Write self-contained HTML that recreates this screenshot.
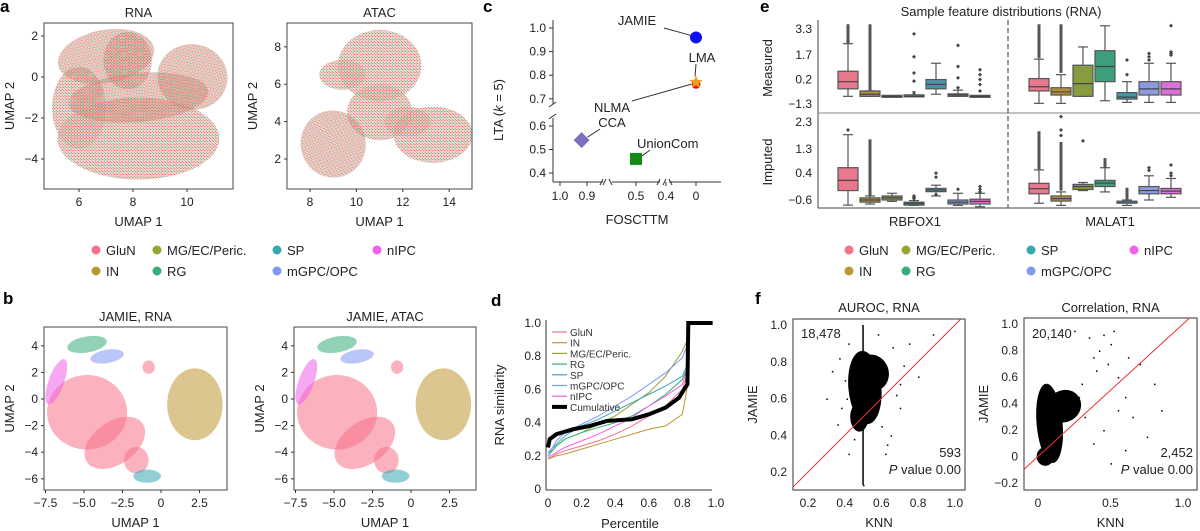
<!DOCTYPE html>
<html><head><meta charset="utf-8">
<style>
html,body{margin:0;padding:0;background:#fff;}
svg{display:block;font-family:"Liberation Sans",sans-serif;}
</style></head>
<body>
<svg id="fig" width="1200" height="531" viewBox="0 0 1200 531" xmlns="http://www.w3.org/2000/svg">
<defs>
  <pattern id="mixdots" width="3" height="3" patternUnits="userSpaceOnUse">
    <rect x="0" y="0" width="1.2" height="1.2" fill="#f77189"/>
    <rect x="1.5" y="0.3" width="1.1" height="1.1" fill="#c9a050"/>
    <rect x="0.6" y="1.6" width="1.1" height="1.1" fill="#f58a9c"/>
    <rect x="2" y="1.8" width="1" height="1" fill="#5ab08a"/>
  </pattern>
</defs>
</svg>
<script>
// ---------------- DATA ----------------
const cellTypes = ["GluN","IN","MG/EC/Peric.","RG","SP","mGPC/OPC","nIPC"];
const typeColors = ["#f77189","#bb9832","#97a431","#36ad7a","#39a7b3","#8197f0","#f060e8"];
const boxColors = ["#e8798d","#b38f3a","#879c3e","#3f9f7c","#3f9aa8","#8c9be0","#dc70d8"];

// panel a cluster blobs (data coords): [cx, cy, rx, ry, rot]
const umapRnaBlobs = [[7.0,1.0,1.8,1.3,-10],[10.2,0.0,1.3,1.6,10],[8.2,-3.0,3.0,2.0,0],[8.2,-1.0,2.6,1.2,-5],[6.0,-1.5,1.0,2.0,0],[7.8,0.8,0.9,1.4,0]];
const umapAtacBlobs = [[11.0,7.0,1.8,1.9,0],[9.4,6.5,1.0,0.8,0],[9.0,2.8,1.4,1.8,-15],[13.3,3.3,1.7,1.5,0],[11.0,4.5,1.4,1.5,0],[12.2,4.0,1.0,0.8,0]];
// panel b cluster blobs: [typeIndex, cx, cy, rx, ry, rot]
const jamieRnaBlobs = [[0,-4.8,-1.0,2.6,2.8,0],[0,-3.0,-3.3,2.2,1.6,-35],[0,-1.6,-4.6,0.8,1.0,0],[1,2.2,-0.4,1.8,2.7,0],[3,-4.8,4.1,1.3,0.6,-10],[5,-3.5,3.2,1.1,0.5,-10],[6,-6.8,1.3,0.5,1.8,20],[4,-0.9,-5.8,0.9,0.5,0],[0,-0.8,2.4,0.4,0.5,0]];
const jamieAtacBlobs = [[0,-4.8,-1.0,2.6,2.8,0],[0,-3.0,-3.3,2.2,1.6,-35],[0,-1.6,-4.6,0.8,1.0,0],[1,2.1,-0.4,1.8,2.7,0],[3,-4.8,4.1,1.3,0.6,-10],[5,-3.5,3.2,1.1,0.5,-10],[6,-6.8,1.3,0.5,1.8,20],[4,-1.0,-5.8,0.9,0.5,0],[0,-0.9,2.4,0.4,0.5,0]];

// panel c
const methods = ["JAMIE","LMA","CCA","UnionCom"];
const foscttm = [0.0, 0.0, 0.92, 0.5];
const lta = [0.96, 0.77, 0.54, 0.46];

// panel d
const pctX = [0,0.05,0.1,0.2,0.3,0.4,0.5,0.6,0.7,0.8,0.83];
const simGluN = [0.18,0.21,0.23,0.26,0.29,0.33,0.38,0.44,0.50,0.60,0.70];
const simIN   = [0.18,0.20,0.21,0.24,0.27,0.30,0.33,0.36,0.38,0.45,0.62];
const simMG   = [0.20,0.26,0.30,0.34,0.39,0.44,0.51,0.58,0.68,0.83,0.90];
const simRG   = [0.20,0.26,0.30,0.34,0.37,0.40,0.44,0.50,0.57,0.66,0.73];
const simSP   = [0.22,0.27,0.32,0.38,0.42,0.47,0.52,0.57,0.62,0.68,0.75];
const simMGPC = [0.20,0.29,0.34,0.39,0.44,0.50,0.56,0.63,0.70,0.79,0.87];
const simNIPC = [0.19,0.22,0.25,0.29,0.33,0.38,0.43,0.50,0.56,0.63,0.73];
const cumX = [0,0.01,0.05,0.15,0.25,0.35,0.5,0.6,0.7,0.78,0.81,0.83,0.835,0.98];
const cumY = [0.25,0.30,0.33,0.36,0.38,0.41,0.42,0.45,0.49,0.55,0.60,0.63,1.0,1.0];

// panel e boxes: [low,q1,med,q3,high]
const measRBFOX1 = [[-0.83,-0.37,0.07,0.71,2.4],[-0.83,-0.83,-0.7,-0.5,-0.5],[-0.83,-0.83,-0.83,-0.83,-0.83],[-0.83,-0.83,-0.83,-0.8,-0.75],[-0.7,-0.37,-0.1,0.2,1.2],[-0.83,-0.83,-0.75,-0.68,-0.45],[-0.83,-0.83,-0.83,-0.83,-0.83]];
const measMALAT1 = [[-1.26,-0.5,-0.24,0.26,1.45],[-1.26,-0.75,-0.56,-0.3,0.5],[-0.83,-0.83,-0.05,1.08,2.2],[-1.1,0.07,1.0,1.97,3.5],[-1.2,-1.0,-0.88,-0.6,0.07],[-1.2,-0.75,-0.37,0.07,1.2],[-1.2,-0.75,-0.37,0.07,1.2]];
const impRBFOX1 = [[-0.79,-0.25,0.13,0.6,1.83],[-0.75,-0.68,-0.6,-0.52,-0.45],[-0.65,-0.6,-0.52,-0.45,-0.35],[-0.8,-0.79,-0.73,-0.68,-0.62],[-0.45,-0.29,-0.23,-0.17,-0.05],[-0.8,-0.75,-0.68,-0.6,-0.35],[-0.85,-0.75,-0.65,-0.57,-0.35]];
const impMALAT1 = [[-0.72,-0.37,-0.18,0.02,0.52],[-0.8,-0.64,-0.55,-0.45,-0.3],[-0.25,-0.21,-0.1,-0.02,0.05],[-0.3,-0.1,0.03,0.13,0.6],[-0.8,-0.75,-0.71,-0.68,-0.6],[-0.6,-0.37,-0.25,-0.1,0.3],[-0.5,-0.37,-0.27,-0.17,0.2]];
// outliers: dense ranges [from,to] and single points
const measRBFOX1Dense = [[2.5,3.5],[-0.4,3.5],null,[-0.72,-0.6],null,null,null];
const measRBFOX1Pts = [[],[],[],[0.1,0.6,1.6,3.0],[],[-0.3,0.3,1.0,2.3],[-0.5,-0.1,0.2,0.5,0.8]];
const measMALAT1Dense = [[1.6,3.5],[0.7,3.5],null,null,null,null,null];
const measMALAT1Pts = [[],[],[],[],[0.5,1.4],[1.4,1.6,1.8],[1.7,1.8,1.9,3.5]];
const impRBFOX1Dense = [null,[-0.4,1.6],null,null,null,null,null];
const impRBFOX1Pts = [[2.0],[],[],[-0.55,-0.5,-0.45],[0.25,0.4,-0.4],[-0.2],[-0.3,-0.2,-0.1]];
const impMALAT1Dense = [[0.6,1.9],[-0.2,1.5],null,[0.65,0.9],[-0.55,-0.2],null,null];
const impMALAT1Pts = [[],[1.8,2.0,2.5],[1.6],[],[],[0.5,0.6],[0.3,0.4,0.7]];

// panel f: core clouds [cx, cy, rx, ry, rot] and sparse points [knn, jamie]
const aurocCore = [[0.51,0.66,0.09,0.2,-5],[0.55,0.74,0.09,0.1,-20],[0.48,0.5,0.05,0.08,0]];
const aurocSparse = [[0.3,0.6],[0.37,0.82],[0.42,0.3],[0.62,0.3],[0.75,0.9],[0.8,0.72],[0.7,0.55],[0.36,0.46],[0.88,0.95],[0.5,0.13],[0.65,0.4],[0.58,0.95],[0.4,0.7],[0.38,0.55],[0.68,0.62],[0.72,0.78],[0.45,0.38],[0.6,0.45],[0.33,0.75],[0.66,0.88],[0.42,0.9],[0.7,0.68],[0.63,0.35],[0.41,0.6]];
const corrCore = [[0.08,0.25,0.09,0.3,-5],[0.18,0.38,0.12,0.12,-30],[0.05,0.0,0.06,0.07,0]];
const corrSparse = [[0.35,0.9],[0.45,0.92],[0.5,0.85],[0.38,0.75],[0.55,0.6],[0.6,0.45],[0.65,0.3],[0.8,0.55],[0.75,0.15],[0.6,0.05],[0.5,-0.05],[0.25,0.95],[0.4,0.65],[0.3,0.55],[0.85,0.35],[0.7,0.7],[0.42,0.8],[0.48,0.7],[0.32,0.3],[0.45,0.2],[0.55,0.35],[0.28,0.45],[0.38,0.1],[0.52,0.95],[0.62,0.75]];

// ---------------- HELPERS ----------------
const svg = document.getElementById('fig');
const NS = "http://www.w3.org/2000/svg";
function mk(tag, attrs, name, parent){
  const el = document.createElementNS(NS, tag);
  for (const k in attrs) el.setAttribute(k, attrs[k]);
  
  
  (parent||svg).appendChild(el);
  return el;
}
function txt(x,y,s,name,o){
  o=o||{};
  const el = mk('text',{x:x,y:y,'font-size':o.size||12,'text-anchor':o.anchor||'middle',fill:o.fill||'#222','font-weight':o.weight||'normal'},name);
  if(o.rot) el.setAttribute('transform','rotate(-90 '+x+' '+y+')');
  el.textContent = s;
  return el;
}
function line(x1,y1,x2,y2,name,o){
  o=o||{};
  return mk('line',{x1:x1,y1:y1,x2:x2,y2:y2,stroke:o.stroke||'#333','stroke-width':o.w||1,'stroke-dasharray':o.dash||'none'},name);
}
function rect(x,y,w,h,name,o){
  o=o||{};
  return mk('rect',{x:x,y:y,width:w,height:h,fill:o.fill||'none',stroke:o.stroke||'none','stroke-width':o.w||1},name);
}
function fmt(v){ return String(v).replace('-','−'); }

// ---------------- PANEL LABELS ----------------
[["a",0,12],["b",3,304],["c",483,12],["d",491,306],["e",760,12],["f",755,304]].forEach(p=>{
  txt(p[1],p[2],p[0],'panel-label-'+p[0],{size:17,weight:'bold',anchor:'start',fill:'#000'});
});

// ---------------- PANELS A/B ----------------
function umapPanel(box, xt, yt, xf, yf, title, blobs, key, mixed, decimalX){
  const cp = mk('clipPath',{id:key+'-clip'},key+'-clip');
  mk('rect',{x:box[0],y:box[1],width:box[2]-box[0],height:box[3]-box[1]},key+'-clip-rect',cp);
  const g = mk('g',{'clip-path':'url(#'+key+'-clip)'},key+'-points');
  blobs.forEach((b)=>{
    let ti, cx, cy, rx, ry, rot;
    if(mixed){ [cx,cy,rx,ry,rot]=b; ti=-1; } else { [ti,cx,cy,rx,ry,rot]=b; }
    const px = xf(cx), py = yf(cy);
    const prx = Math.abs(xf(cx+rx)-px), pry = Math.abs(yf(cy+ry)-py);
    mk('ellipse',{cx:px,cy:py,rx:prx,ry:pry,transform:'rotate('+rot+' '+px+' '+py+')',
      fill: mixed?'url(#mixdots)':typeColors[ti], 'fill-opacity': mixed?1:0.55},key+'-cluster',g);
  });
  rect(box[0],box[1],box[2]-box[0],box[3]-box[1],key+'-frame',{stroke:'#444',w:1});
  xt.forEach(v=>{ const x=xf(v); line(x,box[3],x,box[3]+3,key+'-x-tick'); txt(x,box[3]+17,(decimalX&&v!==0)?fmt(v.toFixed(1)):fmt(v),key+'-x-tick-label',{size:12}); });
  yt.forEach(v=>{ const y=yf(v); line(box[0]-3,y,box[0],y,key+'-y-tick'); txt(box[0]-6,y+4,fmt(v),key+'-y-tick-label',{size:12,anchor:'end'}); });
  const cx=(box[0]+box[2])/2;
  txt(cx,box[1]-6,title,key+'-title',{size:13});
  txt(cx,box[3]+37,'UMAP 1',key+'-x-axis-title',{size:13});
  txt(box[0]-30,(box[1]+box[3])/2,'UMAP 2',key+'-y-axis-title',{size:13,rot:true});
}
umapPanel([44,23,233,189],[6,8,10],[2,0,-2,-4],v=>79+(v-6)*27,v=>77-v*20.5,'RNA',umapRnaBlobs,'umap-rna',true,false);
umapPanel([287,23,472,189],[8,10,12,14],[8,6,4,2],v=>310+(v-8)*23.2,v=>159-(v-2)*18.7,'ATAC',umapAtacBlobs,'umap-atac',true,false);

function legend(xs, y1, y2, key){
  const order=[[0,xs[0],y1],[2,xs[1],y1],[4,xs[2],y1],[6,xs[3],y1],[1,xs[0],y2],[3,xs[1],y2],[5,xs[2],y2]];
  order.forEach(o=>{
    mk('circle',{cx:o[1],cy:o[2],r:4.5,fill:typeColors[o[0]]},key+'-marker');
    txt(o[1]+10,o[2]+5,cellTypes[o[0]],key+'-label',{size:13,anchor:'start'});
  });
}
legend([96,157,277,377],250,271,'legend-a');
legend([849,906,1031,1134],250,271,'legend-e');

umapPanel([44,327,227,490],[-7.5,-5.0,-2.5,0,2.5],[4,2,0,-2,-4,-6],v=>161+v*15.4,v=>399-v*13.3,'JAMIE, RNA',jamieRnaBlobs,'jamie-rna',false,true);
umapPanel([294,327,476,490],[-7.5,-5.0,-2.5,0,2.5],[4,2,0,-2,-4,-6],v=>411+v*15.4,v=>399-v*13.3,'JAMIE, ATAC',jamieAtacBlobs,'jamie-atac',false,true);

// ---------------- PANEL C ----------------
(function(){
  const yUp = v=>28+(1.0-v)*236;
  const yLo = v=>126+(0.6-v)*235;
  const yf = v=> v>=0.65? yUp(v): yLo(v);
  const xf = v=> v>=0.85? 560+(1.0-v)*270 : (v>=0.45? 636+(0.5-v)*290 : 696-v*75);
  line(553,20,553,104,'lta-axis-upper'); line(553,118,553,182,'lta-axis-lower');
  line(549,107,556,102,'lta-axis-break'); line(549,119,556,114,'lta-axis-break');
  line(553,182,603,182,'foscttm-axis'); line(612,182,660,182,'foscttm-axis'); line(669,182,721,182,'foscttm-axis');
  [[603,179,600,185],[606,179,603,185],[609,179,612,185],[660,179,657,185],[666,179,663,185],[669,179,672,185]].forEach(b=>line(b[0],b[1],b[2],b[3],'foscttm-axis-break'));
  [1.0,0.9,0.8,0.7,0.6,0.5,0.4].forEach(v=>{ const y=yf(v); line(549,y,553,y,'lta-tick'); txt(546,y+4,v.toFixed(1),'lta-tick-label',{size:12,anchor:'end'}); });
  [[1.0,'1.0'],[0.9,'0.9'],[0.5,'0.5'],[0.4,'0.4'],[0,'0']].forEach(t=>{ const x=xf(t[0]); line(x,182,x,186,'foscttm-tick'); txt(x,200,t[1],'foscttm-tick-label',{size:12}); });
  txt(637,224,'FOSCTTM','foscttm-axis-title',{size:13});
  const lt = txt(503,110,'','lta-axis-title',{size:13,rot:true});
  lt.innerHTML='LTA (<tspan font-style="italic">k</tspan> = 5)';
  let x=xf(foscttm[0]), y=yf(lta[0]);
  line(664,28,x-5,y-2,'jamie-leader');
  mk('circle',{cx:x,cy:y,r:6,fill:'#1010f0'},'point-jamie');
  txt(637,25,'JAMIE','label-jamie',{size:13});
  x=xf(foscttm[1]); y=yf(lta[1]);
  line(696,64,695,y-6,'lma-leader'); line(632,101,x-5,y+2,'nlma-leader');
  mk('circle',{cx:x,cy:y+2,r:4.5,fill:'#f01010'},'point-nlma');
  mk('polygon',{points:[0,1,2,3,4,5,6,7,8,9].map(i=>{const r=i%2?3:7;const a=-Math.PI/2+i*Math.PI/5;return (x+r*Math.cos(a))+','+(y+r*Math.sin(a));}).join(' '),fill:'#f0a020'},'point-lma');
  txt(702,62,'LMA','label-lma',{size:13});
  txt(612,112,'NLMA','label-nlma',{size:13});
  x=xf(foscttm[2]); y=yf(lta[2]);
  line(600,129,x+6,y-3,'cca-leader');
  mk('polygon',{points:(x)+','+(y-8)+' '+(x+8)+','+y+' '+x+','+(y+8)+' '+(x-8)+','+y,fill:'#7b70c0'},'point-cca');
  txt(612,127,'CCA','label-cca',{size:13});
  x=xf(foscttm[3]); y=yf(lta[3]);
  line(650,150,x+6,y-3,'unioncom-leader');
  rect(x-6,y-6,12,12,'point-unioncom',{fill:'#138a13'});
  txt(637,148,'UnionCom','label-unioncom',{size:13,anchor:'start'});
})();

// ---------------- PANEL D ----------------
(function(){
  const xf=v=>548+v*168, yf=v=>489-v*166;
  line(546,320,546,490,'d-y-axis'); line(546,490,712,490,'d-x-axis');
  [0,0.2,0.4,0.6,0.8,1.0].forEach(v=>{ txt(xf(v),507,v===0?'0':v.toFixed(1),'d-x-tick-label',{size:12}); });
  [0,0.2,0.4,0.6,0.8,1.0].forEach(v=>{ txt(541,yf(v)+4,v===0?'0':v.toFixed(1),'d-y-tick-label',{size:12,anchor:'end'}); });
  txt(630,528,'Percentile','d-x-axis-title',{size:13});
  txt(504,405,'RNA similarity','d-y-axis-title',{size:13,rot:true});
  const series=[simGluN,simIN,simMG,simRG,simSP,simMGPC,simNIPC];
  series.forEach((s,i)=>{
    mk('polyline',{points:s.map((v,j)=>xf(pctX[j])+','+yf(v)).join(' '),fill:'none',stroke:typeColors[i],'stroke-width':1},'similarity-line-'+cellTypes[i].toLowerCase().replace(/[^a-z]/g,''));
  });
  mk('polyline',{points:cumY.map((v,j)=>xf(cumX[j])+','+yf(v)).join(' '),fill:'none',stroke:'#000','stroke-width':4},'similarity-line-cumulative');
  const labs=cellTypes.concat(['Cumulative']);
  labs.forEach((l,i)=>{
    const y=332+i*10.7;
    line(552,y,567,y,'d-legend-line',{stroke:i<7?typeColors[i]:'#000',w:i<7?1.2:4});
    txt(570,y+4,l,'d-legend-label',{size:10,anchor:'start',fill:'#333'});
  });
})();

// ---------------- PANEL E ----------------
(function(){
  const yM=v=>104-(v+1.3)*16.3, yI=v=>200-(v+0.6)*26.9;
  const cR=[848,870,892,914,936,958,980], cM=[1039,1061,1083,1105,1127,1149,1171];
  line(818,20,818,208,'e-y-axis',{stroke:'#444'});
  line(818,208,1200,208,'e-x-axis',{stroke:'#444'});
  line(818,113,1200,113,'e-panel-divider',{stroke:'#888'});
  line(1008,20,1008,208,'e-gene-divider',{stroke:'#555',dash:'5,3',w:1.2});
  txt(1001,16,'Sample feature distributions (RNA)','e-title',{size:13});
  [3.3,1.7,0.2,-1.3].forEach(v=>txt(812,yM(v)+4,fmt(v),'e-measured-tick-label',{size:12,anchor:'end'}));
  [2.3,1.3,0.4,-0.6].forEach(v=>txt(812,yI(v)+4,fmt(v),'e-imputed-tick-label',{size:12,anchor:'end'}));
  txt(772,68,'Measured','e-measured-axis-title',{size:13,rot:true});
  txt(772,162,'Imputed','e-imputed-axis-title',{size:13,rot:true});
  txt(915,226,'RBFOX1','e-gene-label-rbfox1',{size:13});
  txt(1110,226,'MALAT1','e-gene-label-malat1',{size:13});
  function diamond(x,y,name){ mk('polygon',{points:x+','+(y-2)+' '+(x+2)+','+y+' '+x+','+(y+2)+' '+(x-2)+','+y,fill:'#444'},name); }
  function boxes(data,dense,pts,centers,yf,key){
    data.forEach((d,i)=>{
      const x=centers[i];
      if(dense[i]){ const y1=yf(dense[i][1]), y0=yf(dense[i][0]); mk('rect',{x:x-1.5,y:y1-1.5,width:3,height:y0-y1+3,fill:'#555'},key+'-outliers-dense'); }
      line(x,yf(d[0]),x,yf(d[1]),key+'-whisker',{stroke:'#555',w:1.2});
      line(x,yf(d[3]),x,yf(d[4]),key+'-whisker',{stroke:'#555',w:1.2});
      line(x-5,yf(d[0]),x+5,yf(d[0]),key+'-cap',{stroke:'#555',w:1.2});
      line(x-5,yf(d[4]),x+5,yf(d[4]),key+'-cap',{stroke:'#555',w:1.2});
      const h=Math.max(2,yf(d[1])-yf(d[3]));
      rect(x-10,yf(d[3])-(h>2?0:1),20,h,key+'-box-'+cellTypes[i].toLowerCase().replace(/[^a-z]/g,''),{fill:boxColors[i],stroke:'#555',w:1.2});
      line(x-10,yf(d[2]),x+10,yf(d[2]),key+'-median',{stroke:'#444',w:1.2});
      pts[i].forEach(v=>diamond(x,yf(v),key+'-outlier'));
    });
  }
  boxes(measRBFOX1,measRBFOX1Dense,measRBFOX1Pts,cR,yM,'e-measured-rbfox1');
  boxes(measMALAT1,measMALAT1Dense,measMALAT1Pts,cM,yM,'e-measured-malat1');
  boxes(impRBFOX1,impRBFOX1Dense,impRBFOX1Pts,cR,yI,'e-imputed-rbfox1');
  boxes(impMALAT1,impMALAT1Dense,impMALAT1Pts,cM,yI,'e-imputed-malat1');
})();

// ---------------- PANEL F ----------------
function scatterPanel(box,xf,yf,xt,yt,title,core,sparse,nTop,nBot,key,diag,extraLine){
  const cp = mk('clipPath',{id:key+'-clip'},key+'-clip');
  mk('rect',{x:box[0],y:box[1],width:box[2]-box[0],height:box[3]-box[1]},key+'-clip-rect',cp);
  const g = mk('g',{'clip-path':'url(#'+key+'-clip)'},key+'-points');
  core.forEach(c=>{
    const px=xf(c[0]),py=yf(c[1]);
    mk('ellipse',{cx:px,cy:py,rx:Math.abs(xf(c[0]+c[2])-px),ry:Math.abs(yf(c[1]+c[3])-py),transform:'rotate('+c[4]+' '+px+' '+py+')',fill:'#000'},key+'-point-cloud',g);
  });
  sparse.forEach(p=>mk('rect',{x:xf(p[0]),y:yf(p[1]),width:1.5,height:1.5,fill:'#000'},key+'-point',g));
  if(extraLine) line(xf(extraLine[0]),yf(extraLine[1]),xf(extraLine[0]),yf(extraLine[2]),key+'-vertical-cluster',{stroke:'#000',w:1.5});
  const dl = line(xf(diag[0]),yf(diag[0]),xf(diag[1]),yf(diag[1]),key+'-identity-line',{stroke:'#f03030',w:1});
  dl.setAttribute('clip-path','url(#'+key+'-clip)');
  rect(box[0],box[1],box[2]-box[0],box[3]-box[1],key+'-frame',{stroke:'#555',w:1.2});
  xt.forEach(t=>txt(xf(t[0]),box[3]+17,t[1],key+'-x-tick-label',{size:12}));
  yt.forEach(t=>txt(box[0]-6,yf(t[0])+4,t[1],key+'-y-tick-label',{size:12,anchor:'end'}));
  const cx=(box[0]+box[2])/2;
  txt(cx,312,title,key+'-title',{size:13});
  txt(cx,527,'KNN',key+'-x-axis-title',{size:13});
  txt(box[0]-36,(box[1]+box[3])/2,'JAMIE',key+'-y-axis-title',{size:13,rot:true});
  txt(box[0]+8,338,nTop,key+'-count-above',{size:13,anchor:'start'});
  txt(box[2]-4,457,nBot,key+'-count-below',{size:13,anchor:'end'});
  const pv=txt(box[2]-4,474,'',key+'-p-value',{size:13,anchor:'end'});
  pv.innerHTML='<tspan font-style="italic">P</tspan> value 0.00';
}
scatterPanel([793,319,965,490],v=>808+(v-0.2)*183.5,v=>325+(1-v)*183.75,
  [[0.2,'0.2'],[0.4,'0.4'],[0.6,'0.6'],[0.8,'0.8'],[1.0,'1.0']],[[1.0,'1.0'],[0.8,'0.8'],[0.6,'0.6'],[0.4,'0.4'],[0.2,'0.2']],
  'AUROC, RNA',aurocCore,aurocSparse,'18,478','593','auroc',[0,1.2],[0.5,0.13,1.0]);
scatterPanel([1024,318,1197,490],v=>1038+v*145,v=>324+(1-v)*132.5,
  [[0,'0'],[0.5,'0.5'],[1.0,'1.0']],[[1.0,'1.0'],[0.8,'0.8'],[0.6,'0.6'],[0.4,'0.4'],[0.2,'0.2'],[0,'0'],[-0.2,'−0.2']],
  'Correlation, RNA',corrCore,corrSparse,'20,140','2,452','correlation',[-0.3,1.2],null);
</script>
</body></html>
